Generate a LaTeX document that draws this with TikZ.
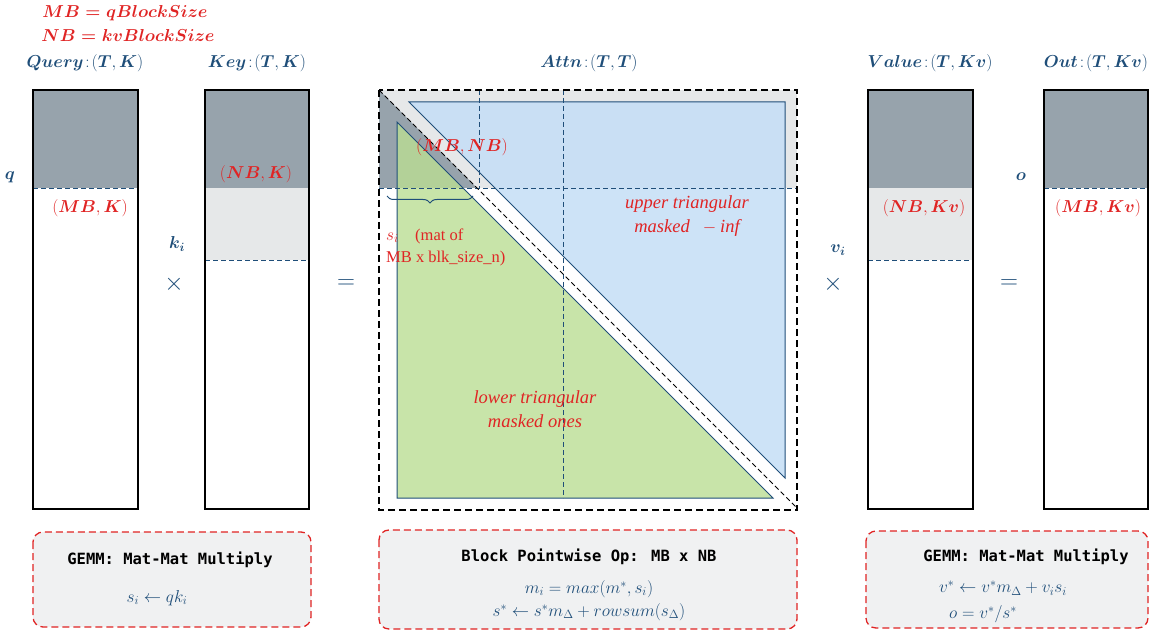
\documentclass[tikz,border=0pt]{standalone}
\usepackage{fontspec}
\usepackage{amsmath}
\setmainfont{Liberation Serif}
\newfontfamily\monob{DejaVu Sans Mono}
\usetikzlibrary{decorations.pathreplacing}
\definecolor{dblue}{HTML}{1F4E79}
\definecolor{myred}{HTML}{E02424}
\definecolor{dgray}{HTML}{97A3AC}
\definecolor{lgray}{HTML}{E6E8E9}
\definecolor{lblue}{HTML}{C4DEF6}
\definecolor{lgreen}{HTML}{BADD93}
\tikzset{
 mat/.style={draw=black,line width=1.2pt},
 thin dash/.style={draw=dblue,dash pattern=on 5pt off 3pt,line width=0.6pt},
 ttl/.style={text=dblue,font=\fontsize{17}{20}\selectfont},
 rlab/.style={text=myred,font=\fontsize{17}{20}\selectfont},
 op/.style={text=dblue,font=\fontsize{30}{32}\selectfont},
 mono/.style={font=\monob\bfseries\fontsize{15.5}{18}\selectfont},
 frm/.style={text=dblue,font=\fontsize{18}{22}\selectfont},
 obox/.style={draw=myred,dash pattern=on 7pt off 4pt,line width=1.3pt,rounded corners=10pt,fill=lgray!60},
}
\begin{document}
\begin{tikzpicture}[x=1pt,y=-1pt]
\useasboundingbox (0,0) rectangle (1162,636);
% top labels
\node[rlab] (mbdef) at (125,13) {$\boldsymbol{MB = qBlockSize}$};
\node[rlab] (nbdef) at (128,36) {$\boldsymbol{NB = kvBlockSize}$};
\node[ttl] (tq) at (85,63) {$\boldsymbol{Query}\!:\!(\boldsymbol{T},\boldsymbol{K})$};
\node[ttl] (tk) at (257,63) {$\boldsymbol{Key}\!:\!(\boldsymbol{T},\boldsymbol{K})$};
\node[ttl] (ta) at (589,63) {$\boldsymbol{Attn}\!:\!(\boldsymbol{T},\boldsymbol{T})$};
\node[ttl] (tv) at (930,63) {$\boldsymbol{Value}\!:\!(\boldsymbol{T},\boldsymbol{Kv})$};
\node[ttl] (to) at (1096,63) {$\boldsymbol{Out}\!:\!(\boldsymbol{T},\boldsymbol{Kv})$};
% Query
\fill[dgray] (33,90) rectangle (138,188);
\draw[thin dash] (33,188) -- (138,188);
\draw[mat] (33,90) rectangle (138,509);
% Key
\fill[dgray] (205,90) rectangle (309,188);
\fill[lgray] (205,188) rectangle (309,260);
\draw[thin dash] (205,260) -- (309,260);
\draw[mat] (205,90) rectangle (309,509);
% Value
\fill[dgray] (868,90) rectangle (973,188);
\fill[lgray] (868,188) rectangle (973,260);
\draw[thin dash] (868,260) -- (973,260);
\draw[mat] (868,90) rectangle (973,509);
% Out
\fill[dgray] (1044,90) rectangle (1148,188);
\draw[thin dash] (1044,188) -- (1148,188);
\draw[mat] (1044,90) rectangle (1148,509);
% Attn
\fill[lgray] (379,90) rectangle (797,188);
\fill[dgray] (379,90) -- (477,188) -- (379,188) -- cycle;
\fill[lblue,opacity=0.85] (409,102) -- (785,102) -- (785,478) -- cycle;
\draw[dblue,line width=1pt] (409,102) -- (785,102) -- (785,478) -- cycle;
\fill[lgreen,opacity=0.8] (397,122) -- (397,498) -- (773,498) -- cycle;
\draw[dblue,line width=1pt] (397,122) -- (397,498) -- (773,498) -- cycle;
\draw[thin dash] (479,90) -- (479,188);
\draw[thin dash] (563,90) -- (563,498);
\draw[thin dash] (379,188) -- (797,188);
\draw[black,dash pattern=on 5pt off 3pt,line width=0.8pt] (379,90) -- (797,508);
\draw[black,dash pattern=on 7pt off 4pt,line width=2pt] (379,90) rectangle (797,510);
\draw[dblue,decorate,decoration={brace,mirror,amplitude=7pt},line width=1pt] (387,196) -- (473,196);
\node[rlab] (mbnb) at (462,147) {$(\boldsymbol{MB},\boldsymbol{NB})$};
\node[text=myred,font=\fontsize{16.5}{22}\selectfont,align=left,anchor=west,inner sep=0pt] (si) at (386,247) {$s_i$\quad(mat of\\MB x blk\_size\_n)};
\node[rlab,font=\fontsize{18.5}{24}\selectfont,align=center] (up) at (687,216) {$\mathit{upper\ triangular}$\\$\mathit{masked}\ \ -\mathit{inf}$};
\node[rlab,font=\fontsize{18.5}{24}\selectfont,align=center] (lo) at (535,409) {$\mathit{lower\ triangular}$\\$\mathit{masked\ ones}$};
% side labels
\node[ttl] (lq) at (10,177) {$\boldsymbol{q}$};
\node[rlab] (lmbk) at (90,208) {$(\boldsymbol{MB},\boldsymbol{K})$};
\node[rlab] (lnbk) at (256,174) {$(\boldsymbol{NB},\boldsymbol{K})$};
\node[ttl] (lk) at (177,244) {$\boldsymbol{k_i}$};
\node[op] (x1) at (174,284) {$\times$};
\node[op] (e1) at (346,284) {$=$};
\node[op] (x2) at (833,284) {$\times$};
\node[ttl] (lv) at (838,250) {$\boldsymbol{v_i}$};
\node[rlab] (lnbkv) at (924,208) {$(\boldsymbol{NB},\boldsymbol{Kv})$};
\node[op] (e2) at (1009,284) {$=$};
\node[ttl] (lo2) at (1021,177) {$\boldsymbol{o}$};
\node[rlab] (lmbkv) at (1098,208) {$(\boldsymbol{MB},\boldsymbol{Kv})$};
% bottom boxes
\draw[obox] (33,532) rectangle (311,627);
\draw[obox] (379,530) rectangle (797,629);
\draw[obox] (866,531) rectangle (1148,628);
\node[mono] (g1) at (170,560) {GEMM: Mat-Mat Multiply};
\node[frm] (f1) at (157,598) {$s_i \leftarrow q k_i$};
\node[mono] (g2) at (589,557) {Block Pointwise Op: MB x NB};
\node[frm] (f2) at (589,589) {$m_i = max(m^{*}, s_i)$};
\node[frm] (f3) at (589,612) {$s^{*} \leftarrow s^{*} m_{\Delta} + rowsum(s_{\Delta})$};
\node[mono] (g3) at (1026,557) {GEMM: Mat-Mat Multiply};
\node[frm] (f4) at (1003,588) {$v^{*} \leftarrow v^{*} m_{\Delta} + v_i s_i$};
\node[frm] (f5) at (983,614) {$o = v^{*} / s^{*}$};
\end{tikzpicture}
\end{document}
